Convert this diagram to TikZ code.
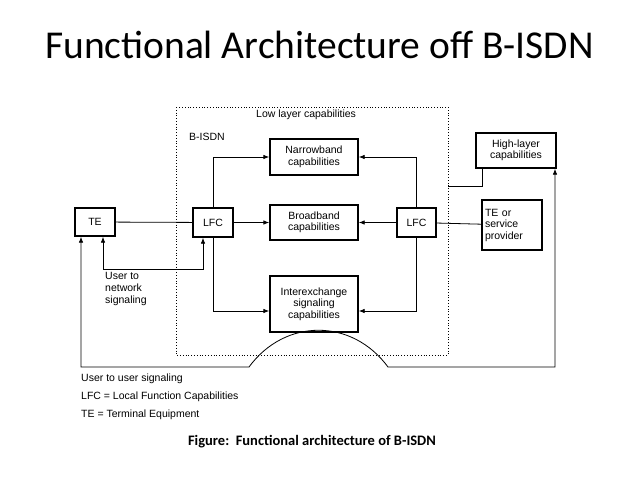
\documentclass[tikz,border=0pt]{standalone}
\usepackage{fontspec}
\setmainfont{Liberation Sans}
\newfontfamily\calib{Carlito}
\usetikzlibrary{arrows.meta}
\begin{document}
\begin{tikzpicture}[x=1pt,y=-1pt,
  bx/.style={draw,line width=1.3pt,align=center,inner sep=0pt,font=\fontsize{10.5}{11.5}\selectfont},
  ln/.style={line width=0.8pt},
  ar/.style={ln,-{Latex[length=6pt,width=4.5pt]}},
  lb/.style={font=\fontsize{10.5}{12}\selectfont,align=left,anchor=west,inner sep=0pt}]
\useasboundingbox (0,0) rectangle (638,479);
\node[font=\calib\fontsize{39.5}{42}\selectfont,anchor=west,inner sep=0pt] (title) at (45,45) {Functional Architecture off B-ISDN};
\draw[dotted,line width=0.8pt] (176,107) rectangle (448,355);
\node[lb] (low) at (256,115) {Low layer capabilities};
\node[lb] (bisdn) at (189,137) {B-ISDN};
\node[bx,minimum width=88,minimum height=36] (nb) at (314,157) {Narrowband\\capabilities};
\node[bx,minimum width=88,minimum height=35] (bb) at (314,222.5) {Broadband\\capabilities};
\node[bx,minimum width=88,minimum height=56] (ix) at (314,304) {Interexchange\\signaling\\capabilities};
\node[bx,minimum width=40,minimum height=28] (te) at (95,222) {TE};
\node[bx,minimum width=40,minimum height=29] (lfcl) at (213,222.5) {LFC};
\node[bx,minimum width=39,minimum height=29] (lfcr) at (416.5,222.5) {LFC};
\node[bx,minimum width=60,minimum height=50,align=left,text width=54] (tesp) at (512,225) {TE or\\service\\provider};
\node[bx,minimum width=80,minimum height=35] (hl) at (516,150.5) {High-layer\\capabilities};
\coordinate (dbr) at (448,186);
\draw[ln] (dbr) -- (482,186) -- (482,168);
\draw[ln] (te) -- (lfcl);
\draw[ln] (lfcr) -- (tesp);
\draw[ar] (lfcl.north) |- (nb.west);
\draw[ar] (lfcr.north) |- (nb.east);
\draw[ar] (lfcl) -- (bb);
\draw[ar] (lfcr) -- (bb);
\draw[ar] (lfcl.south) |- (ix.west |- 0,311);
\draw[ar] (lfcr.south) |- (ix.east |- 0,311);
\draw[ln,{Latex[length=6pt,width=4.5pt]}-{Latex[length=6pt,width=4.5pt]}] (te.south -| 103,0) -- (103,269) -- (203,269) -- (lfcl.south -| 203,0);
\node[lb,anchor=north west] (u2n) at (105,272) {User to\\network\\signaling};
\draw[ln,{Latex[length=6pt,width=4.5pt]}-{Latex[length=6pt,width=4.5pt]}] (te.south -| 81,0) -- (81,367) -- (249,367)
  .. controls (285,318) and (352,318) .. (388,367) -- (555,367) -- (hl.south -| 555,0);
\node[lb] (u2u) at (81,379) {User to user signaling};
\node[lb] (l1) at (81,397) {LFC = Local Function Capabilities};
\node[lb] (l2) at (81,415) {TE = Terminal Equipment};
\node[font=\calib\bfseries\fontsize{14.5}{16}\selectfont] (cap) at (312,442) {Figure:\ \ Functional architecture of B-ISDN};
\end{tikzpicture}
\end{document}
